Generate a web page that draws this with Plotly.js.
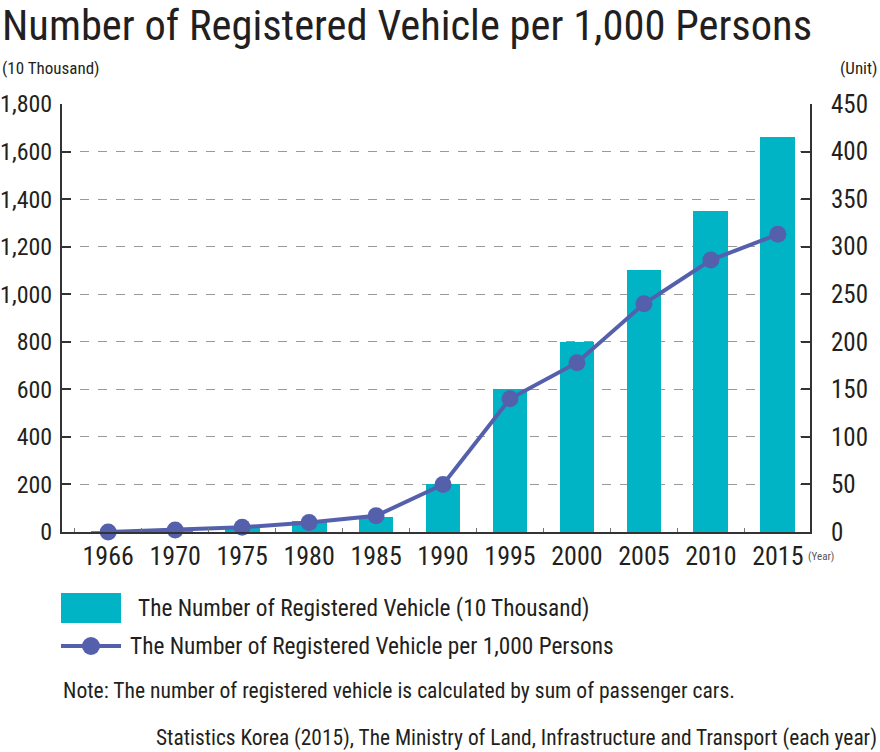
<!DOCTYPE html>
<html>
<head>
<meta charset="utf-8">
<script src="https://cdn.plot.ly/plotly-3.0.1.min.js"></script>
<style>
html,body{margin:0;padding:0;background:#fff;}
#chart{width:880px;height:752px;}
</style>
</head>
<body>
<div id="chart"></div>
<script>
var years = ['1966','1970','1975','1980','1985','1990','1995','2000','2005','2010','2015'];
var vehicles = [4, 12, 17, 48, 64, 200, 600, 800, 1100, 1350, 1660];
var perThousand = [0, 2, 5, 10, 17, 50, 140, 178, 240, 286, 313];
var leftTicks = [0,200,400,600,800,1000,1200,1400,1600,1800];
var rightTicks = [0,50,100,150,200,250,300,350,400,450];

var FONT = '"Roboto Condensed", "Open Sans", Roboto, sans-serif';
var INK = '#231f20';
var TEAL = '#00b4c5';
var PURPLE = '#5560ad';

// plot area in pixels: x 62..810, y 104..532
var L = 62, R = 810, T = 104, B = 532;
function px(x){ return (x - L) / (R - L); }
function py(y){ return (B - y) / (B - T); }

var traces = [
  {
    type: 'bar', x: years, y: vehicles, name: 'The Number of Registered Vehicle (10 Thousand)',
    marker: {color: TEAL}, width: 0.52, yaxis: 'y', showlegend: false
  },
  {
    type: 'scatter', mode: 'lines+markers', x: years, y: perThousand,
    name: 'The Number of Registered Vehicle per 1,000 Persons',
    line: {color: PURPLE, width: 4}, marker: {color: PURPLE, size: 17},
    yaxis: 'y2', showlegend: false, cliponaxis: false
  }
];

var layout = {
  width: 880, height: 752,
  margin: {l: L, r: 880 - R, t: T, b: 752 - B, pad: 0},
  paper_bgcolor: '#fff', plot_bgcolor: '#fff',
  font: {family: FONT, color: INK},
  showlegend: false,
  bargap: 0,
  xaxis: {
    type: 'category', range: [-0.69, 10.48], tickangle: 0,
    showline: true, linecolor: '#333', linewidth: 2,
    ticks: 'inside', tickson: 'boundaries', ticklen: 4, tickcolor: '#777', tickwidth: 1,
    tickfont: {family: FONT, size: 26, color: INK},
    showgrid: false, zeroline: false, ticklabelstandoff: 0
  },
  yaxis: {
    range: [0, 1800], tickvals: leftTicks, tickformat: ',',
    showline: true, linecolor: '#333', linewidth: 2,
    ticks: 'inside', ticklen: 9, tickwidth: 2, tickcolor: '#333',
    tickfont: {family: FONT, size: 24, color: INK},
    showgrid: true, gridcolor: '#9a9a9a', griddash: 'dash', gridwidth: 1,
    zeroline: false, ticklabelstandoff: 3
  },
  yaxis2: {
    range: [0, 450], tickvals: rightTicks, overlaying: 'y', side: 'right',
    showline: true, linecolor: '#333', linewidth: 2,
    ticks: 'inside', ticklen: 9, tickwidth: 2, tickcolor: '#333',
    tickfont: {family: FONT, size: 25, color: INK},
    showgrid: false, zeroline: false, ticklabelstandoff: 14
  },
  annotations: [
    {text: 'Number of Registered Vehicle per 1,000 Persons', xref: 'paper', yref: 'paper',
     x: px(0), y: py(25.5), xanchor: 'left', yanchor: 'middle', showarrow: false,
     font: {family: FONT, size: 42.5, color: INK}},
    {text: '(10 Thousand)', xref: 'paper', yref: 'paper', x: px(0), y: py(68),
     xanchor: 'left', yanchor: 'middle', showarrow: false, font: {family: FONT, size: 17, color: INK}},
    {text: '(Unit)', xref: 'paper', yref: 'paper', x: px(879), y: py(68),
     xanchor: 'right', yanchor: 'middle', showarrow: false, font: {family: FONT, size: 17, color: INK}},
    {text: '(Year)', xref: 'paper', yref: 'paper', x: px(806), y: py(556),
     xanchor: 'left', yanchor: 'middle', showarrow: false, font: {family: FONT, size: 11, color: '#555'}},
    {text: 'The Number of Registered Vehicle (10 Thousand)', xref: 'paper', yref: 'paper', x: px(136), y: py(608),
     xanchor: 'left', yanchor: 'middle', showarrow: false, font: {family: FONT, size: 23.3, color: INK}},
    {text: 'The Number of Registered Vehicle per 1,000 Persons', xref: 'paper', yref: 'paper', x: px(128), y: py(646),
     xanchor: 'left', yanchor: 'middle', showarrow: false, font: {family: FONT, size: 23.3, color: INK}},
    {text: 'Note: The number of registered vehicle is calculated by sum of passenger cars.', xref: 'paper', yref: 'paper',
     x: px(61), y: py(690), xanchor: 'left', yanchor: 'middle', showarrow: false, font: {family: FONT, size: 21.6, color: INK}},
    {text: 'Statistics Korea (2015), The Ministry of Land, Infrastructure and Transport (each year)', xref: 'paper', yref: 'paper',
     x: px(879), y: py(738), xanchor: 'right', yanchor: 'middle', showarrow: false, font: {family: FONT, size: 21.4, color: INK}}
  ],
  shapes: [
    {type: 'rect', xref: 'paper', yref: 'paper', x0: px(61), x1: px(121), y0: py(593), y1: py(623),
     fillcolor: TEAL, line: {width: 0}},
    {type: 'line', xref: 'paper', yref: 'paper', x0: px(61), x1: px(121), y0: py(646), y1: py(646),
     line: {color: PURPLE, width: 4}},
    {type: 'circle', xref: 'paper', yref: 'paper', x0: px(82), x1: px(100), y0: py(655), y1: py(637),
     fillcolor: PURPLE, line: {width: 0}}
  ]
};

Plotly.newPlot('chart', traces, layout, {displayModeBar: false, staticPlot: true});
</script>
</body>
</html>
